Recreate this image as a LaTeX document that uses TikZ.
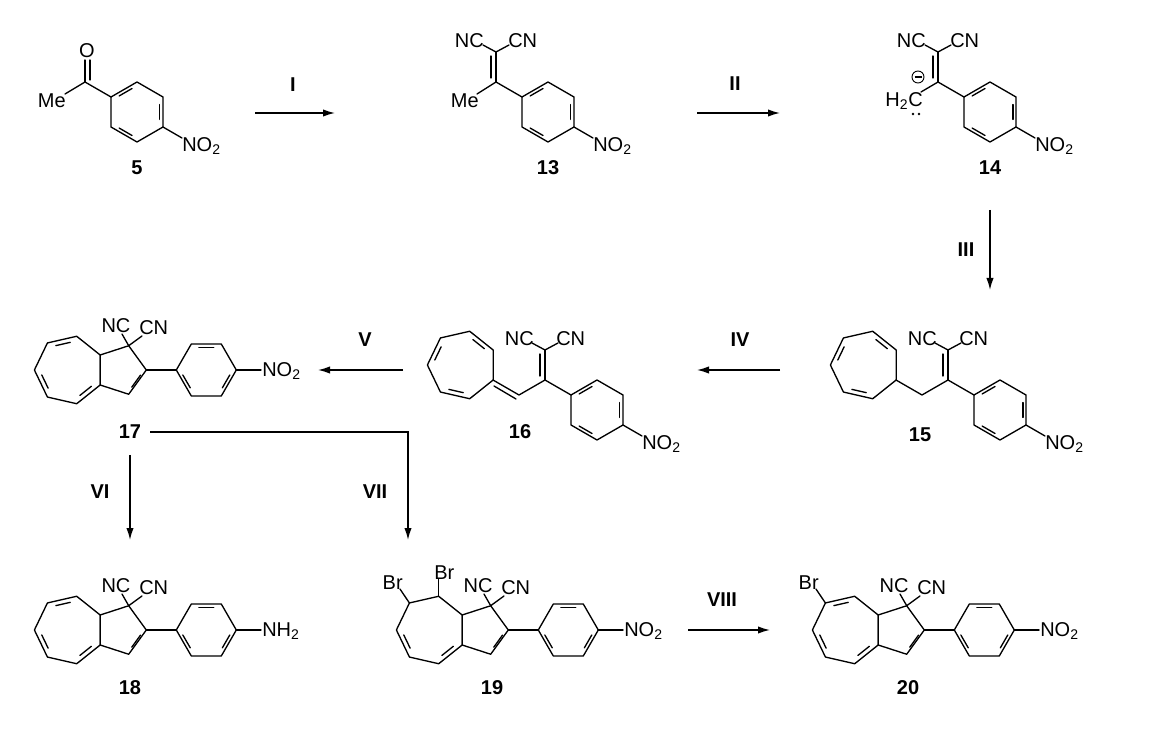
\documentclass[tikz,border=0pt]{standalone}
\usepackage{fontspec}
\setmainfont{Liberation Sans}
\usetikzlibrary{calc,arrows.meta}
\tikzset{
 bond/.style={line width=1pt,line cap=round,line join=round},
 lbl/.style={font=\fontsize{15}{17}\selectfont,inner sep=0pt},
 num/.style={font=\fontsize{15}{17}\selectfont\bfseries,inner sep=0pt},
 rxn/.style={line width=1pt,-{Latex[length=9pt,width=5.5pt]}}
}
% cx cy n rot R innerlist
\newcommand{\ringp}[6]{%
 \draw[bond] ($(#1,#2)+(#4:#5)$) \foreach \k in {1,...,#3}{ -- ($(#1,#2)+(#4+360/#3*\k:#5)$)} -- cycle;
 \foreach \k in {#6}{\draw[bond] ($(#1,#2)+(#4+360/#3*\k+360/#3*0.2:0.8*#5)$) -- ($(#1,#2)+(#4+360/#3*\k+360/#3*0.8:0.8*#5)$);}
}
\newcommand{\pph}[2]{\ringp{#1}{#2}{6}{30}{30}{1,3,5}}
\newcommand{\nitro}[3]{% x y name
 \draw[bond] (#1,#2) -- ++(19,11);
 \node[lbl,anchor=west] (#3) at ($(#1,#2)+(19,19)$) {NO\textsubscript{2}};
}
\newcommand{\azu}[3]{% innerlist, substituent text, name
 \ringp{0}{0}{7}{-25.714}{34.6}{#1}
 \ringp{51.8}{0}{5}{216}{25.5}{2}
 \ringp{137.3}{0}{6}{0}{30}{0,2,4}
 \draw[bond] (77.3,0) -- (107.3,0);
 \draw[bond] (167.3,0) -- (192,0);
 \node[lbl,anchor=west] (#3s) at (193,1) {#2};
 \draw[bond] (59.7,-24.3) -- (53,-36);
 \draw[bond] (59.7,-24.3) -- (73,-34);
 \node[lbl,anchor=south] (#3a) at (47,-37) {NC};
 \node[lbl,anchor=south west] (#3b) at (70,-35) {CN};
}
\begin{document}
\begin{tikzpicture}[x=0.75pt,y=-0.75pt]
\useasboundingbox (0,0) rectangle (1172,752);
% ---- 5
\pph{137}{112}
\draw[bond] (111,97) -- (85,82);
\draw[bond] (85,82) -- (85,60);
\draw[bond] (90,80) -- (90,60);
\node[lbl] (o5) at (87,51) {O};
\draw[bond] (85,82) -- (65,94);
\node[lbl,anchor=east] (me5) at (66,101) {Me};
\nitro{163}{127}{n5}
\node[num] (l5) at (137,168) {5};
\draw[rxn] (255,113) -- (335,113);
\node[num] (r1) at (293,85) {I};
% ---- 13
\pph{548}{112}
\draw[bond] (522,97) -- (496,82);
\draw[bond] (496,82) -- (496,52);
\draw[bond] (491,78) -- (491,56);
\draw[bond] (496,52) -- (483,45);
\draw[bond] (496,52) -- (509,45);
\node[lbl,anchor=east] (nc13) at (484,41) {NC};
\node[lbl,anchor=west] (cn13) at (508,41) {CN};
\draw[bond] (496,82) -- (477,94);
\node[lbl,anchor=east] (me13) at (479,101) {Me};
\nitro{574}{127}{n13}
\node[num] (l13) at (548,168) {13};
\draw[rxn] (697,113) -- (780,113);
\node[num] (r2) at (735,84) {II};
% ---- 14
\pph{990}{112}
\draw[bond] (964,97) -- (938,82);
\draw[bond] (938,82) -- (938,52);
\draw[bond] (933,78) -- (933,56);
\draw[bond] (938,52) -- (925,45);
\draw[bond] (938,52) -- (951,45);
\node[lbl,anchor=east] (nc14) at (926,41) {NC};
\node[lbl,anchor=west] (cn14) at (950,41) {CN};
\draw[bond] (938,82) -- (921,92);
\node[lbl,anchor=east] (h14) at (923,101) {H\textsubscript{2}C};
\draw[line width=0.7pt] (918,77) circle (6);
\draw[line width=0.9pt] (914.5,77) -- (921.5,77);
\fill (913,114) circle (1.3) (919,114) circle (1.3);
\nitro{1016}{127}{n14}
\node[num] (l14) at (990,168) {14};
\draw[rxn] (990,210) -- (990,290);
\node[num] (r3) at (966,250) {III};
% ---- 15
\pph{1000}{410}
\draw[bond] (974,395) -- (948,380);
\draw[bond] (948,380) -- (948,350);
\draw[bond] (943,376) -- (943,354);
\draw[bond] (948,350) -- (935,343);
\draw[bond] (948,350) -- (961,343);
\node[lbl,anchor=east] (nc15) at (937,339) {NC};
\node[lbl,anchor=west] (cn15) at (959,339) {CN};
\draw[bond] (948,380) -- (922,395) -- (896,380);
\ringp{865}{365}{7}{25.714}{34.6}{1,3,5}
\nitro{1026}{425}{n15}
\node[num] (l15) at (920,435) {15};
\draw[rxn] (780,370) -- (697,370);
\node[num] (r4) at (740,340) {IV};
% ---- 16
\pph{597}{410}
\draw[bond] (571,395) -- (545,380);
\draw[bond] (545,380) -- (545,350);
\draw[bond] (540,376) -- (540,354);
\draw[bond] (545,350) -- (532,343);
\draw[bond] (545,350) -- (558,343);
\node[lbl,anchor=east] (nc16) at (534,339) {NC};
\node[lbl,anchor=west] (cn16) at (556,339) {CN};
\draw[bond] (545,380) -- (519,395) -- (493,380);
\draw[bond] (494,386) -- (516,399);
\ringp{462}{365}{7}{25.714}{34.6}{1,3,5}
\nitro{623}{425}{n16}
\node[num] (l16) at (520,432) {16};
\draw[rxn] (403,370) -- (318,370);
\node[num] (r5) at (365,340) {V};
% ---- 17
\begin{scope}[shift={(69,370)}]
\azu{1,3,5}{NO\textsubscript{2}}{m17}
\end{scope}
\node[num] (l17) at (130,432) {17};
\draw[rxn] (150,432) -- (408,432) -- (408,540);
\node[num] (r7) at (375,492) {VII};
\draw[rxn] (130,455) -- (130,540);
\node[num] (r6) at (100,492) {VI};
% ---- 18
\begin{scope}[shift={(69,630)}]
\azu{1,3,5}{NH\textsubscript{2}}{m18}
\end{scope}
\node[num] (l18) at (130,688) {18};
% ---- 19
\begin{scope}[shift={(431,630)}]
\azu{1,3}{NO\textsubscript{2}}{m19}
\draw[bond] (-21.6,-27) -- (-31,-41);
\node[lbl,anchor=east] (br19a) at (-28,-47) {Br};
\draw[bond] (7.7,-33.7) -- (7.7,-51);
\node[lbl,anchor=south west] (br19b) at (3,-50) {Br};
\end{scope}
\node[num] (l19) at (492,688) {19};
\draw[rxn] (688,630) -- (770,630);
\node[num] (r8) at (722,600) {VIII};
% ---- 20
\begin{scope}[shift={(847,630)}]
\azu{1,3,5}{NO\textsubscript{2}}{m20}
\draw[bond] (-21.6,-27) -- (-31,-41);
\node[lbl,anchor=east] (br20) at (-28,-47) {Br};
\end{scope}
\node[num] (l20) at (908,688) {20};
\end{tikzpicture}
\end{document}
